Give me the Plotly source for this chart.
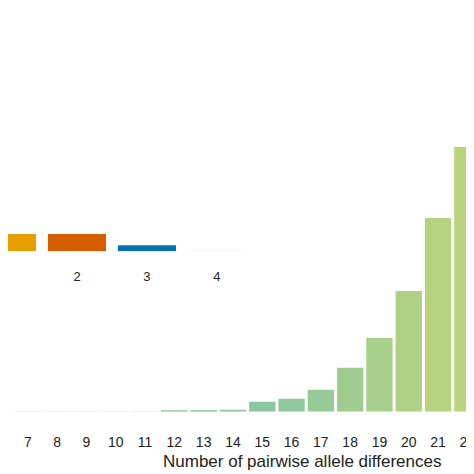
import plotly.graph_objects as go

main_x = list(range(7, 23))
main_y = [0.3, 0.3, 0.3, 0.3, 0.4, 1, 1.5, 2, 10, 13, 22, 44, 74, 121, 194, 265]
main_colors = ["#e6ede6", "#e6ede6", "#e6ede6", "#e6ede6", "#e3ece4", "#a8d0b4", "#9ccbad",
               "#93c8a6", "#8cc6a0", "#90c89e", "#98ca98", "#a0cc92", "#a8cf8c",
               "#afd186", "#b5d381", "#bad47e"]

inset_x = [1, 2, 3, 4]
inset_y = [100, 100, 35, 3]
inset_colors = ["#E69F00", "#D55E00", "#0072B2", "#f3f3f3"]

fig = go.Figure()
fig.add_bar(x=main_x, y=main_y, marker_color=main_colors, marker_line_width=0,
            xaxis="x", yaxis="y", showlegend=False)
fig.add_bar(x=inset_x, y=inset_y, marker_color=inset_colors, marker_line_width=0,
            xaxis="x2", yaxis="y2", showlegend=False, width=0.83)

fig.update_layout(
    width=474, height=474, margin=dict(l=0, r=0, t=0, b=0, autoexpand=False),
    plot_bgcolor="white", paper_bgcolor="white", bargap=0.1,
    font=dict(family="Liberation Sans, Arial", color="#222", size=14),
    xaxis=dict(domain=[0.011, 1.0], range=[6.5, 22.5], tickvals=main_x, automargin=False,
               ticktext=[str(v) for v in main_x], showgrid=False, zeroline=False,
               showline=False, ticks="", ticklabelstandoff=20, tickfont=dict(size=14)),
    yaxis=dict(domain=[0.148, 1.0], range=[0, 404], visible=False, automargin=False),
    xaxis2=dict(domain=[0, 0.55], range=[1.014, 4.74], anchor="y2", tickvals=[2, 3, 4],
                ticktext=["2", "3", "4"], showgrid=False, zeroline=False, showline=False,
                ticks="", ticklabelstandoff=16, tickfont=dict(size=13), automargin=False),
    yaxis2=dict(domain=[0.487, 0.6], range=[0, 314], visible=False, anchor="x2",
                automargin=False),
    annotations=[dict(text="Number of pairwise allele differences", x=0.62, y=0.02,
                      xref="paper", yref="paper", showarrow=False,
                      font=dict(size=17, color="#222"))],
)
fig.write_html("out.html")
